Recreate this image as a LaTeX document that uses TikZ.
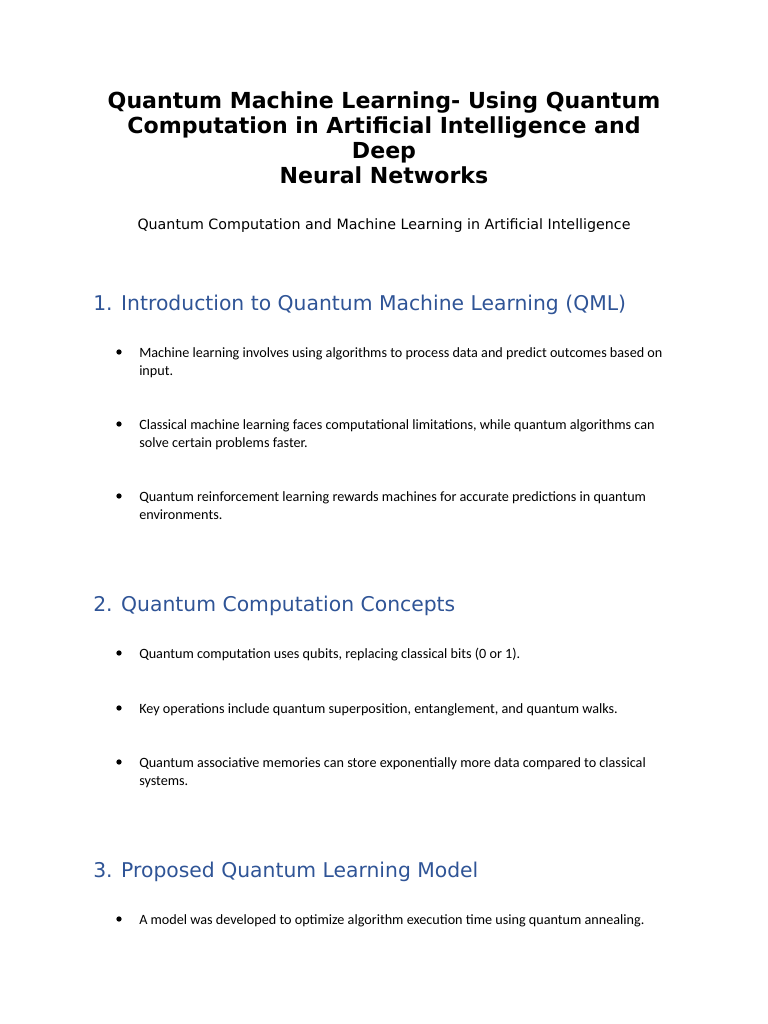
\documentclass[tikz,border=0pt]{standalone}
\usepackage{fontspec}
\setmainfont{Carlito}
\newfontfamily\djvfont{DejaVu Sans}
\definecolor{hblue}{RGB}{47,84,150}
\begin{document}
\begin{tikzpicture}[x=0.797pt,y=-0.797pt,
  ttl/.style={anchor=base,font=\djvfont\bfseries\fontsize{17.6}{20}\selectfont},
  hd/.style={anchor=base west,text=hblue,font=\djvfont\fontsize{16.2}{19}\selectfont,inner sep=0},
  bt/.style={anchor=base west,font=\fontsize{11.3}{13}\selectfont,inner sep=0},
  dot/.style={circle,fill=black,inner sep=0,minimum size=4.2pt}]
\useasboundingbox (0,0) rectangle (768,1024);
\node[ttl] (t1) at (384,108) {Quantum Machine Learning- Using Quantum};
\node[ttl] (t2) at (384,133) {Computation in Artificial Intelligence and};
\node[ttl] (t3) at (384,158) {Deep};
\node[ttl] (t4) at (384,183) {Neural Networks};
\node[anchor=base,font=\djvfont\fontsize{11.35}{13}\selectfont] (sub) at (384,229) {Quantum Computation and Machine Learning in Artificial Intelligence};
\node[hd] (h1) at (93,310) {1. Introduction to Quantum Machine Learning (QML)};
\node[dot] (d1) at (119,352) {};
\node[bt] (b1a) at (139,357) {Machine learning involves using algorithms to process data and predict outcomes based on};
\node[bt] (b1b) at (139,375) {input.};
\node[dot] (d2) at (119,424) {};
\node[bt] (b2a) at (139,429) {Classical machine learning faces computational limitations, while quantum algorithms can};
\node[bt] (b2b) at (139,447) {solve certain problems faster.};
\node[dot] (d3) at (119,496) {};
\node[bt] (b3a) at (139,501) {Quantum reinforcement learning rewards machines for accurate predictions in quantum};
\node[bt] (b3b) at (139,519) {environments.};
\node[hd] (h2) at (93,611) {2. Quantum Computation Concepts};
\node[dot] (d4) at (119,653) {};
\node[bt] (b4) at (139,658) {Quantum computation uses qubits, replacing classical bits (0 or 1).};
\node[dot] (d5) at (119,708) {};
\node[bt] (b5) at (139,713) {Key operations include quantum superposition, entanglement, and quantum walks.};
\node[dot] (d6) at (119,762) {};
\node[bt] (b6a) at (139,767) {Quantum associative memories can store exponentially more data compared to classical};
\node[bt] (b6b) at (139,785) {systems.};
\node[hd] (h3) at (93,877) {3. Proposed Quantum Learning Model};
\node[dot] (d7) at (119,919) {};
\node[bt] (b7) at (139,924) {A model was developed to optimize algorithm execution time using quantum annealing.};
\end{tikzpicture}
\end{document}
